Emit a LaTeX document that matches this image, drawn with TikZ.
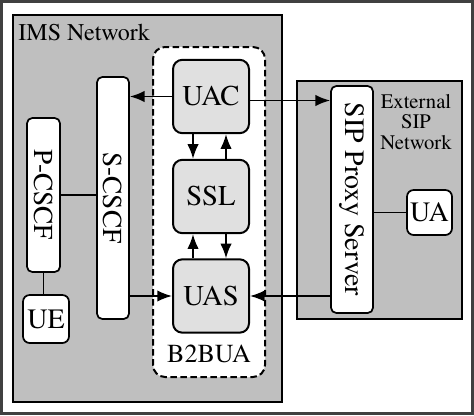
\documentclass[tikz,border=0pt]{standalone}
\usepackage{fontspec}
\setmainfont{texgyretermes}[Extension=.otf, UprightFont=*-regular, BoldFont=*-bold, ItalicFont=*-italic, BoldItalicFont=*-bolditalic]
\usetikzlibrary{arrows.meta,calc}

\tikzset{every picture/.style={line width=0.75pt}}
\tikzset{
  netbox/.style={draw=black, fill=black!25, line width=1.5pt},
  b2bbox/.style={draw=black, fill=white, line width=1.5pt, rounded corners=9pt, dash pattern=on 5pt off 2.5pt},
  agent/.style={draw=black, fill=black!12, line width=1.5pt, rounded corners=7pt, inner sep=0pt,
    minimum width=57pt, minimum height=55pt, font=\fontsize{21.5}{24}\selectfont},
  pillar/.style={draw=black, fill=white, line width=1.3pt, rounded corners=4pt, inner sep=0pt},
  vtext/.style={rotate=-90, inner sep=0pt, font=\fontsize{20.5}{22}\selectfont},
  term/.style={draw=black, fill=white, line width=1.3pt, rounded corners=5pt, inner sep=0pt,
    font=\fontsize{21}{24}\selectfont},
  flow/.style={line width=1.25pt, -{Latex[length=11pt,width=8.5pt]}},
  link/.style={line width=0.9pt}
}

\begin{document}
\begin{tikzpicture}[x=0.75pt,y=0.75pt,yscale=-1,xscale=1]
\useasboundingbox (0,0) rectangle (474,415);

%Shape: Frame
\draw [line width=2.25pt, black!75] (1.5,1.5) rectangle (472.5,413.5);
%Shape: IMS Network
\draw [netbox] (13,15) rectangle (282,402);
%Shape: External SIP Network
\draw [netbox] (297,81) rectangle (462,319);
%Shape: B2BUA
\draw [b2bbox] (153,47) rectangle (265,377);

% B2BUA parts
\node [agent] (uac) at (211,96.5) {UAC};
\node [agent] (ssl) at (211,196.5) {SSL};
\node [agent] (uas) at (211,296) {UAS};

% IMS side
\node [pillar, minimum width=24pt, minimum height=181.5pt, label={[vtext]center:S-CSCF}] (scscf) at (113,198) {};
\node [pillar, minimum width=24.75pt, minimum height=115.5pt, label={[vtext]center:P-CSCF}] (pcscf) at (43.5,195) {};
\node [term, minimum width=34.5pt, minimum height=36pt] (ue) at (46,319) {UE};

% External side
\node [pillar, minimum width=31.5pt, minimum height=170.25pt, label={[vtext, font=\fontsize{21}{24}\selectfont]center:SIP Proxy Server}] (proxy) at (352,199.5) {};
\node [term, minimum width=33.75pt, minimum height=33.75pt] (ua) at (429.5,212.5) {UA};

% Text Node
\node [anchor=base west, inner sep=0pt, font=\fontsize{18}{20}\selectfont] (imslbl) at (18,40) {IMS Network};
% Text Node
\node [anchor=base, inner sep=0pt, font=\fontsize{19.5}{22}\selectfont] (b2bualbl) at (209,362) {B2BUA};
% Text Node
\node [align=center, inner sep=0pt, font=\fontsize{15.5}{15.5}\selectfont] (extlbl) at (416,122) {External\\SIP\\Network};

% Connectors
\draw [flow] (uac.west) -- (uac.west -| scscf.east);
\draw [flow] ($(uac.east)+(0,4)$) -- ($(uac.east -| proxy.west)+(0,4)$);
\draw [flow] ($(uac.south)+(-18,0)$) -- ($(ssl.north)+(-18,0)$);
\draw [flow] ($(ssl.north)+(15,0)$) -- ($(uac.south)+(15,0)$);
\draw [flow] ($(uas.north)+(-18,0)$) -- ($(ssl.south)+(-18,0)$);
\draw [flow] ($(ssl.south)+(15,0)$) -- ($(uas.north)+(15,0)$);
\draw [flow] (uas.west -| scscf.east) -- (uas.west);
\draw [flow] (uas.east -| proxy.west) -- (uas.east);
\draw [link] (pcscf.east) -- (pcscf.east -| scscf.west);
\draw [link] (pcscf.south) -- (pcscf.south |- ue.north);
\draw [link] (ua.west) -- (ua.west -| proxy.east);

\end{tikzpicture}
\end{document}
